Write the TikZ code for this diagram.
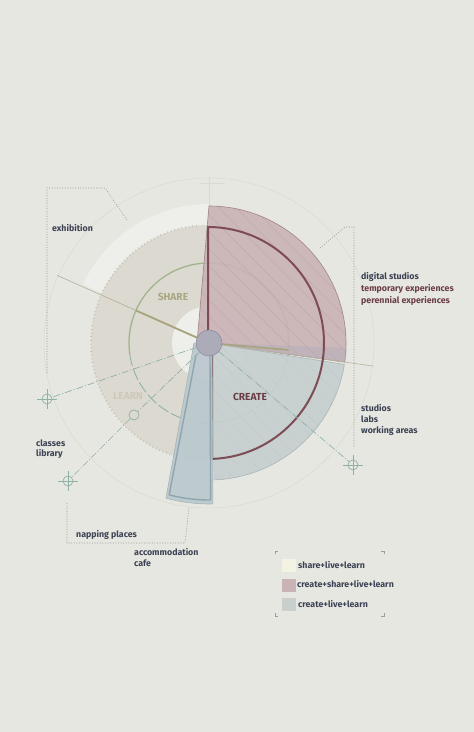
\documentclass[tikz,border=0pt]{standalone}
\usepackage{fontspec}
\setmainfont{Fira Sans}
\usetikzlibrary{calc}
\definecolor{bg}{HTML}{E7E7E1}
\definecolor{ringwhite}{HTML}{EEEEEA}
\definecolor{beige}{HTML}{DCD9D0}
\definecolor{tickc}{HTML}{BDB8AC}
\definecolor{pinkfill}{HTML}{CAB2B5}
\definecolor{pinkedge}{HTML}{A08489}
\definecolor{redarc}{HTML}{7E4C55}
\definecolor{bluefill}{HTML}{C6CFCF}
\definecolor{blueedge}{HTML}{A6B5B8}
\definecolor{wedgefill}{HTML}{BAC8CD}
\definecolor{wedgeedge}{HTML}{8FA5AF}
\definecolor{hubfill}{HTML}{ABABBA}
\definecolor{hubedge}{HTML}{8E8E9E}
\definecolor{greenring}{HTML}{A2B48F}
\definecolor{tealline}{HTML}{8FB1A8}
\definecolor{olive}{HTML}{A7A37D}
\definecolor{olivethin}{HTML}{B8B39C}
\definecolor{faint}{HTML}{DADAD4}
\definecolor{dotc}{HTML}{9C9C98}
\definecolor{navy}{HTML}{3B4254}
\definecolor{wine}{HTML}{6B3D45}
\definecolor{sharec}{HTML}{A9A684}
\definecolor{learnc}{HTML}{CEC8B9}
\definecolor{sqshare}{HTML}{F4F3E3}
\definecolor{sqcreate}{HTML}{C9B3B5}
\definecolor{sqlive}{HTML}{C8CFCD}
\tikzset{
  lbl/.style={font=\fontsize{8.8}{10}\selectfont\bfseries, text=navy, anchor=west, inner sep=0pt},
  lblred/.style={lbl, text=wine},
  zone/.style={font=\fontsize{10.2}{12}\selectfont\bfseries, inner sep=0pt},
  callout/.style={dotc, line width=0.6pt, dash pattern=on 1pt off 1.6pt},
  tealdash/.style={tealline, line width=0.7pt, dash pattern=on 7pt off 2pt on 1pt off 2pt},
  target/.style={circle, draw=tealline, line width=0.7pt, minimum size=10pt, inner sep=0pt},
  sq/.style={minimum width=14pt, minimum height=13pt, inner sep=0pt, anchor=north west},
  hatch/.style={line width=0.35pt},
}
\begin{document}
\begin{tikzpicture}[x=1pt,y=1pt]
\fill[bg] (0,0) rectangle (474,732);
\useasboundingbox (0,0) rectangle (474,732);
\coordinate (C) at (209,389);

% faint construction lines
\draw[faint, line width=0.5pt] (C) circle (165);
\draw[faint, line width=0.6pt] ($(C)+(0,-135)$) -- ($(C)+(0,166)$);
\draw[faint, line width=0.5pt] ($(C)+(-10,160)$) -- ($(C)+(16,160)$);

% whitish ring and beige sector
\fill[ringwhite] (C) -- ++(90:139) arc (90:155:139) -- cycle;
\fill[beige] (C) -- ++(90:118) arc (90:270:118) -- cycle;
\draw[tickc, line width=2.2pt, dash pattern=on 0.5pt off 3.2pt] ($(C)+(96:118)$) arc (96:265:118);
\fill[ringwhite] (C) circle (37);

% green share ring
\draw[greenring, line width=1.3pt] ($(C)+(-20:80)$) arc (-20:188:80);
\draw[tealline, line width=0.9pt, dash pattern=on 12pt off 3pt] ($(C)+(188:80)$) arc (188:340:80);

% olive radial lines
\draw[olivethin, line width=0.7pt] (C) -- ++(156:166);
\draw[olive, line width=1.8pt] (C) -- ++(156:80);

% pink sector
\fill[pinkfill, fill opacity=0.9] ($(C)+(-12,0)$) -- ($(C)+(0,137)$) arc (90:-8:137) -- (C) -- cycle;
\begin{scope}
\clip ($(C)+(-12,0)$) -- ($(C)+(0,137)$) arc (90:-8:137) -- (C) -- cycle;
\foreach \i in {-280,-263,...,300} \draw[hatch, pinkedge!70] ($(C)+(\i-160,160)$) -- ($(C)+(\i+160,-160)$);
\end{scope}
\draw[pinkedge, line width=0.6pt] ($(C)+(-12,0)$) -- ($(C)+(0,137)$) arc (90:-8:137) -- (C);

% blue sector
\fill[bluefill, fill opacity=0.92] (C) -- ++(-9:137) arc (-9:-88:137) -- cycle;
\begin{scope}
\clip (C) -- ++(-9:137) arc (-9:-88:137) -- cycle;
\foreach \i in {-280,-263,...,300} \draw[hatch, blueedge!70] ($(C)+(\i-160,160)$) -- ($(C)+(\i+160,-160)$);
\end{scope}
\draw[blueedge, line width=0.6pt] (C) -- ++(-9:137) arc (-9:-88:137);

% grey wedge to the right
\fill[hubfill, fill opacity=0.35] (C) -- ++(-2:138) -- ($(C)+(-8:138)$) -- cycle;
\draw[olive, line width=1.6pt] (C) -- ++(-5:80);
\draw[olivethin, line width=0.6pt] (C) -- ++(-8:166);

% dark red create ring
\draw[redarc, line width=2pt] ($(C)+(-1,0)$) -- ++(0,116) arc (90:-88:116) -- ($(C)+(3,-12)$);

% narrow wedge
\fill[wedgefill, fill opacity=0.92] ($(C)+(-15,0)$) -- ($(C)+(-105.5:161)$) arc (-105.5:-88.6:161) -- ($(C)+(3,0)$) -- cycle;
\draw[blueedge, line width=0.6pt] ($(C)+(-15,0)$) -- ($(C)+(-105.5:161)$) arc (-105.5:-88.6:161) -- ($(C)+(3,0)$);
\draw[wedgeedge, line width=1.4pt, line join=round] ($(C)+(-13,-12)$) -- ($(C)+(-104.7:157)$) arc (-104.7:-89.4:157) -- ($(C)+(1,-12)$);

% targets
\node[target] (t1) at (47,333) {};
\node[target] (t2) at (68,251) {};
\node[target] (t3) at (353,267) {};
\node[circle, draw=tealline, line width=0.7pt, minimum size=10pt, inner sep=0pt] (t4) at (134,317) {};
\foreach \t in {t1,t2,t3} {
  \draw[tealline, line width=0.5pt] ($(\t.center)+(-10,0)$) -- ($(\t.center)+(10,0)$);
  \draw[tealline, line width=0.5pt] ($(\t.center)+(0,-10)$) -- ($(\t.center)+(0,10)$);
}

% hub
\node[circle, fill=hubfill, draw=hubedge, line width=0.6pt, minimum size=26pt, inner sep=0pt] (hub) at (C) {};

% teal connectors
\draw[tealdash] (hub) -- (t1);
\draw[tealdash] (hub) -- (t4);
\draw[tealdash] (t4) -- (t2);
\draw[tealdash] (hub) -- (t3);

% callout brackets
\coordinate (e1) at (127,512);
\coordinate (e2) at (105,544);
\coordinate (e3) at (47,544);
\coordinate (e4) at (47,359);
\draw[callout] (e1) -- (e2) -- (e3) -- (e4);
\coordinate (d1) at (320,484);
\coordinate (d2) at (345,505);
\coordinate (d3) at (354,505);
\coordinate (d4) at (354,284);
\draw[callout] (d1) -- (d2) -- (d3) -- (d4);
\coordinate (n1) at (67,229);
\coordinate (n2) at (67,189);
\coordinate (n3) at (185,189);
\coordinate (n4) at (189,224);
\draw[callout] (n1) -- (n2) -- (n3) -- (n4);

% zone labels
\node[zone, text=sharec] (share) at (173,435) {SHARE};
\node[zone, text=learnc] (learn) at (128,336) {LEARN};
\node[zone, text=wine] (create) at (250,335) {CREATE};

% side labels
\node[lbl] (exh) at (52,504) {exhibition};
\node[lbl] (dig) at (361,455) {digital studios};
\node[lblred] (tmp) at (361,443) {temporary experiences};
\node[lblred] (per) at (361,431) {perennial experiences};
\node[lbl] (stu) at (361,324) {studios};
\node[lbl] (lab) at (361,313) {labs};
\node[lbl] (wrk) at (361,301) {working areas};
\node[lbl] (cls) at (36,289) {classes};
\node[lbl] (lib) at (36,278) {library};
\node[lbl] (nap) at (76,197) {napping places};
\node[lbl] (acc) at (134,180) {accommodation};
\node[lbl] (caf) at (134,169) {cafe};

% legend
\node[sq, fill=sqshare] (s1) at (282,173) {};
\node[sq, fill=sqcreate] (s2) at (282,153) {};
\node[sq, fill=sqlive] (s3) at (282,134) {};
\node[lbl] (l1) at (298,167) {share+live+learn};
\node[lbl] (l2) at (297,148) {create+share+live+learn};
\node[lbl] (l3) at (298,128) {create+live+learn};
\draw[dotc, line width=0.6pt] (275,178) -- (275,181) -- (278,181);
\draw[dotc, line width=0.6pt] (381,181) -- (384,181) -- (384,178);
\draw[dotc, line width=0.6pt] (275,119) -- (275,116) -- (278,116);
\draw[dotc, line width=0.6pt] (381,116) -- (384,116) -- (384,119);
\end{tikzpicture}
\end{document}
